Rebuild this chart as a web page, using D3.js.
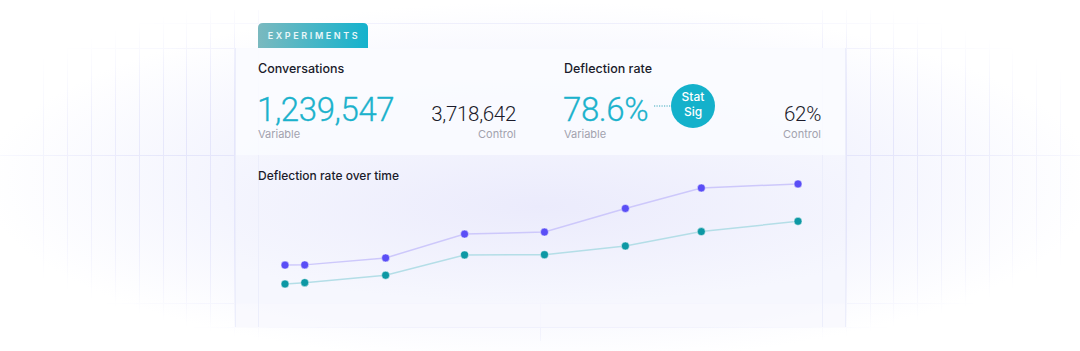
<!DOCTYPE html>
<html>
<head>
<meta charset="utf-8">
<script src="https://cdn.jsdelivr.net/npm/d3@7"></script>
<style>
  html, body { margin: 0; padding: 0; background: #fff; }
  svg { display: block; font-family: "Liberation Sans", Arial, sans-serif; }
</style>
</head>
<body>
<svg id="chart"></svg>
<script>
// time axis: days since experiment start
const days = [0, 2, 10.2, 18.2, 26.3, 34.5, 42.2, 52];
// deflection rate (%) per point
const variableRate = [42.5, 42.6, 45.7, 56.3, 57.2, 67.7, 76.8, 78.6];
const controlRate = [34.1, 34.7, 38.0, 47.0, 47.1, 51.0, 57.4, 62.0];

const stats = [
  { title: "Conversations", variable: "1,239,547", control: "3,718,642" },
  { title: "Deflection rate", variable: "78.6%", control: "62%", sig: ["Stat", "Sig"] }
];
const tabLabel = "EXPERIMENTS";
const chartTitle = "Deflection rate over time";

const W = 1080, H = 351;
const svg = d3.select("#chart").attr("width", W).attr("height", H);
const defs = svg.append("defs");

// background glow
const glow = defs.append("radialGradient").attr("id", "glow")
  .attr("cx", "50%").attr("cy", "52%").attr("r", "56%");
glow.append("stop").attr("offset", "0%").attr("stop-color", "#eaebfd");
glow.append("stop").attr("offset", "50%").attr("stop-color", "#f3f4fe");
glow.append("stop").attr("offset", "92%").attr("stop-color", "#ffffff");

const fade = defs.append("radialGradient").attr("id", "fade")
  .attr("cx", "50%").attr("cy", "48%").attr("r", "56%");
fade.append("stop").attr("offset", "0%").attr("stop-color", "#fff");
fade.append("stop").attr("offset", "60%").attr("stop-color", "#fff").attr("stop-opacity", 0.85);
fade.append("stop").attr("offset", "100%").attr("stop-color", "#fff").attr("stop-opacity", 0);
defs.append("mask").attr("id", "gridMask")
  .attr("maskUnits", "userSpaceOnUse").attr("x", 0).attr("y", 0).attr("width", W).attr("height", H)
  .append("rect").attr("x", 0).attr("y", 0).attr("width", W).attr("height", H)
  .attr("fill", "url(#fade)");

const tabGrad = defs.append("linearGradient").attr("id", "tabGrad");
tabGrad.append("stop").attr("offset", "0%").attr("stop-color", "#7ab9bf");
tabGrad.append("stop").attr("offset", "100%").attr("stop-color", "#14b2cd");

const panelGrad = defs.append("radialGradient").attr("id", "panelGrad")
  .attr("cx", "50%").attr("cy", "35%").attr("r", "65%");
panelGrad.append("stop").attr("offset", "0%").attr("stop-color", "#ebebfc");
panelGrad.append("stop").attr("offset", "100%").attr("stop-color", "#f6f7fe");

svg.append("rect").attr("width", W).attr("height", H).attr("fill", "url(#glow)");

// faint background grid
const grid = svg.append("g").attr("mask", "url(#gridMask)")
  .attr("stroke", "#e2e3fa").attr("stroke-width", 1);
const leftCols = d3.range(43, 260, 23.9);
const rightCols = d3.range(822, 1062, 23.8);
grid.selectAll(".vl").data(leftCols.concat(rightCols)).enter().append("line")
  .attr("x1", d => Math.round(d) + 0.5).attr("x2", d => Math.round(d) + 0.5)
  .attr("y1", 10).attr("y2", 341);
grid.append("line").attr("x1", 540.5).attr("x2", 540.5).attr("y1", 303).attr("y2", 341);
grid.selectAll(".hl").data([23, 48, 155, 303, 327]).enter().append("line")
  .attr("x1", 0).attr("x2", W)
  .attr("y1", d => d + 0.5).attr("y2", d => d + 0.5);

// card
const card = svg.append("g");
card.append("rect").attr("x", 235).attr("y", 48).attr("width", 610).attr("height", 107)
  .attr("fill", "#fafbff").attr("opacity", 0.92);
card.append("rect").attr("x", 235).attr("y", 155).attr("width", 610).attr("height", 148)
  .attr("fill", "url(#panelGrad)");
card.append("rect").attr("x", 235).attr("y", 303).attr("width", 610).attr("height", 24)
  .attr("fill", "#f8f8fe").attr("opacity", 0.8);
card.selectAll(".edge").data([235, 258, 822, 845]).enter().append("line")
  .attr("x1", d => d + 0.5).attr("x2", d => d + 0.5)
  .attr("y1", d => (d === 258 || d === 822) ? 155 : 48).attr("y2", 327).attr("stroke", "#eceefb");

// tab
const tx = 258, ty = 23, tw = 110, th = 25, r = 5;
card.append("path")
  .attr("d", `M${tx},${ty + th} V${ty + r} Q${tx},${ty} ${tx + r},${ty} H${tx + tw - r} Q${tx + tw},${ty} ${tx + tw},${ty + r} V${ty + th} Z`)
  .attr("fill", "url(#tabGrad)");
card.append("text").attr("x", tx + tw / 2 + 1).attr("y", 39)
  .attr("text-anchor", "middle").attr("fill", "#eaf7f9")
  .style("font-size", "9px").style("font-weight", 600).style("letter-spacing", "2.6px")
  .style("font-family", "Inter, sans-serif")
  .text(tabLabel);

// stat blocks
const blockX = d3.scaleOrdinal().domain(stats.map(d => d.title)).range([258, 564]);
const blockR = d3.scaleOrdinal().domain(stats.map(d => d.title)).range([516, 821]);
const blocks = card.selectAll(".stat").data(stats).enter().append("g");
blocks.append("text").attr("x", d => blockX(d.title)).attr("y", 73)
  .attr("fill", "#1b1b2b").style("font-size", "12.5px").style("font-weight", 500)
  .style("font-family", "Inter, sans-serif")
  .text(d => d.title);
blocks.append("text").attr("x", d => blockX(d.title) - 1).attr("y", 121)
  .attr("fill", "#1bb2cc").style("font-size", "33px").style("font-weight", 300)
  .style("font-family", "Roboto, sans-serif").style("letter-spacing", "-0.4px")
  .style("stroke", "#1bb2cc").style("stroke-width", 0.3)
  .text(d => d.variable);
blocks.append("text").attr("x", d => blockX(d.title)).attr("y", 138)
  .attr("fill", "#a2a2ae").style("font-size", "11px")
  .style("font-family", "Inter, sans-serif")
  .text("Variable");
blocks.append("text").attr("x", d => blockR(d.title)).attr("y", 121)
  .attr("text-anchor", "end").attr("fill", "#1b1b2b").style("font-size", "20.5px").style("font-weight", 300)
  .style("font-family", "Roboto, sans-serif").style("letter-spacing", "-0.3px")
  .text(d => d.control);
blocks.append("text").attr("x", d => blockR(d.title)).attr("y", 138)
  .attr("text-anchor", "end").attr("fill", "#a2a2ae").style("font-size", "11px")
  .style("font-family", "Inter, sans-serif")
  .text("Control");

// stat sig badge
const sigBlock = blocks.filter(d => d.sig);
sigBlock.append("line").attr("x1", 654).attr("x2", 672).attr("y1", 106).attr("y2", 106)
  .attr("stroke", "#3aa9bb").attr("stroke-width", 1).attr("stroke-dasharray", "1.2,1.3");
sigBlock.append("circle").attr("cx", 693).attr("cy", 106).attr("r", 22).attr("fill", "#14b1cb");
sigBlock.selectAll(".sig").data(d => d.sig).enter().append("text")
  .attr("x", 693).attr("y", (d, i) => 101 + i * 15)
  .attr("text-anchor", "middle").attr("fill", "#fff")
  .style("font-size", "12px").style("font-weight", 500)
  .style("font-family", "Inter, sans-serif")
  .text(d => d);

// line chart
card.append("text").attr("x", 258).attr("y", 180).attr("fill", "#1b1b2b")
  .style("font-size", "12px").style("font-weight", 500)
  .style("font-family", "Inter, sans-serif")
  .text(chartTitle);

const x = d3.scaleLinear().domain([0, 52]).range([285, 798]);
const y = d3.scaleLinear().domain([30, 80]).range([293.2, 180.8]);

const series = [
  { name: "Control", values: controlRate, line: "#b4dee7", dot: "#0d98a4" },
  { name: "Variable", values: variableRate, line: "#cdc8fb", dot: "#5a4ef6" }
];
const line = d3.line().x((d, i) => x(days[i])).y(d => y(d));
const sg = card.selectAll(".series").data(series).enter().append("g");
sg.append("path").attr("d", d => line(d.values)).attr("fill", "none")
  .attr("stroke", d => d.line).attr("stroke-width", 1.5);
sg.selectAll("circle").data(d => d.values.map((v, i) => ({ v, i, c: d.dot }))).enter().append("circle")
  .attr("cx", d => x(days[d.i])).attr("cy", d => y(d.v)).attr("r", 4)
  .attr("fill", d => d.c).attr("stroke", "#fff").attr("stroke-opacity", 0.6).attr("stroke-width", 0.8);
</script>
</body>
</html>
